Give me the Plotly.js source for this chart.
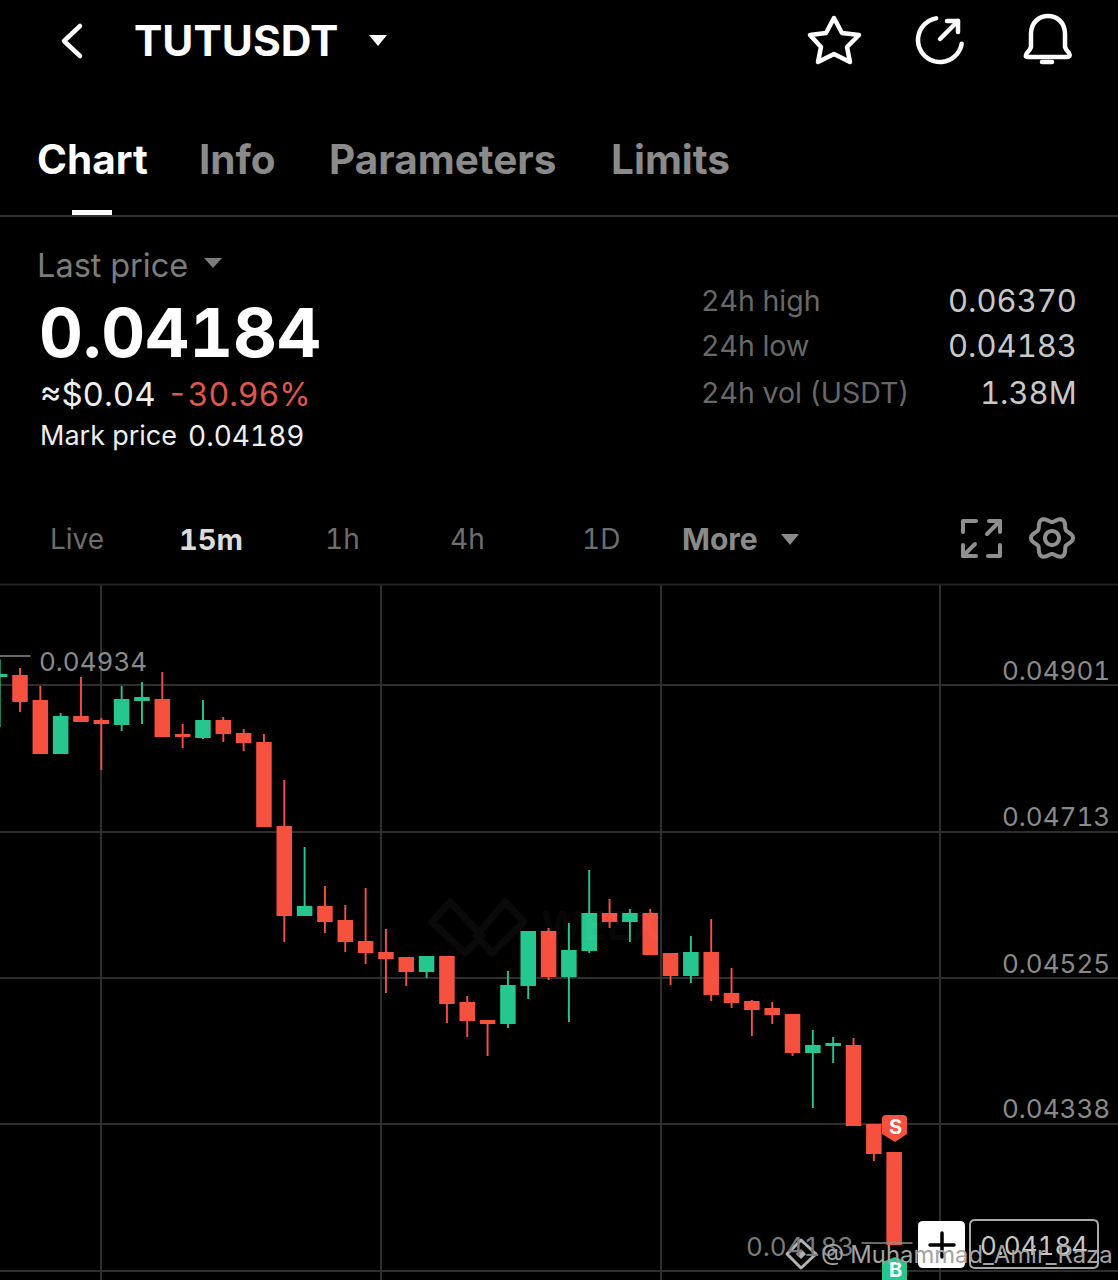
<!DOCTYPE html>
<html><head><meta charset="utf-8">
<script src="https://cdn.plot.ly/plotly-3.0.1.min.js"></script>
<style>html,body{margin:0;padding:0;background:#000;overflow:hidden}
svg text{font-variant-numeric:tabular-nums;font-feature-settings:"tnum" 1}
.shapelayer path{stroke-linejoin:round;stroke-linecap:round}</style></head>
<body><div id="chart" style="width:1118px;height:1280px"></div>
<script>
const candleIndex=[0,1,2,3,4,5,6,7,8,9,10,11,12,13,14,15,16,17,18,19,20,21,22,23,24,25,26,27,28,29,30,31,32,33,34,35,36,37,38,39,40,41,42,43,44];
const openPrice=[0.049125,0.049125,0.048805,0.048138,0.048600,0.048548,0.048510,0.048818,0.048818,0.048369,0.048343,0.048548,0.048382,0.048266,0.047189,0.046060,0.046163,0.045983,0.045714,0.045573,0.045509,0.045342,0.045522,0.044932,0.044701,0.044675,0.045163,0.045842,0.045278,0.045611,0.046073,0.045983,0.046073,0.045560,0.045291,0.045573,0.045047,0.044945,0.044855,0.044778,0.044303,0.044393,0.044380,0.043367,0.043008];
const highPrice=[0.04934,0.049228,0.048997,0.048651,0.049113,0.048587,0.048997,0.049048,0.049177,0.048510,0.048818,0.048600,0.048446,0.048382,0.047792,0.046932,0.046432,0.046189,0.046407,0.045881,0.045509,0.045522,0.045522,0.045021,0.044701,0.045342,0.045842,0.045894,0.045958,0.046637,0.046266,0.046137,0.046137,0.045573,0.045791,0.046009,0.045381,0.044970,0.044945,0.044778,0.044586,0.044496,0.044483,0.043367,0.043008];
const lowPrice=[0.048471,0.048664,0.048138,0.048138,0.048548,0.047920,0.048420,0.048510,0.048356,0.048202,0.048317,0.048279,0.048164,0.047202,0.045714,0.046060,0.045829,0.045586,0.045432,0.045060,0.045150,0.045252,0.044675,0.044496,0.044252,0.044611,0.044983,0.045227,0.044688,0.045573,0.045894,0.045714,0.045560,0.045163,0.045188,0.044957,0.044867,0.044508,0.044662,0.044252,0.043585,0.044162,0.043367,0.042905,0.04183];
const closePrice=[0.049138,0.048805,0.048138,0.048600,0.048548,0.048523,0.048818,0.048843,0.048356,0.048356,0.048548,0.048394,0.048279,0.047202,0.046060,0.046163,0.045983,0.045727,0.045586,0.045509,0.045342,0.045522,0.044932,0.044714,0.044675,0.045150,0.045842,0.045278,0.045598,0.046073,0.045983,0.046073,0.045560,0.045291,0.045573,0.045047,0.044945,0.044855,0.044791,0.044303,0.044380,0.044406,0.043367,0.043008,0.04184];
const yTickVals=[0.04901,0.04713,0.04525,0.04338,0.0415];
const yTickLabels=['0.04901','0.04713','0.04525','0.04338'];
const xGridVals=[4.984,18.76,32.53,46.25];
const tabs=['Chart','Info','Parameters','Limits'];
const intervals=['Live','15m','1h','4h','1D','More'];
const statLabels=['24h high','24h low','24h vol (USDT)'];
const statValues=['0.06370','0.04183','1.38M'];

const W=1118,H=1280,RED='#F6503F',GREEN='#26C78F',FONT='Inter, "Noto Sans", sans-serif';
const X=v=>v/W, Y=v=>1-v/H;
const P=s=>{let i=0;return s.replace(/-?\d+(\.\d+)?/g,m=>(i++%2===0)?X(+m).toFixed(5):Y(+m).toFixed(5));};
const shapes=[],annotations=[];
function stroke(path,color,w,layer){shapes.push({type:'path',xref:'paper',yref:'paper',path:P(path),line:{color,width:w},layer:layer||'above'});}
function fill(path,color,lw,lc,layer){shapes.push({type:'path',xref:'paper',yref:'paper',path:P(path),fillcolor:color,line:{color:lc||color,width:lw||0},layer:layer||'above'});}
function T(text,x,y,size,color,weight,anchor){annotations.push({xref:'paper',yref:'paper',x:X(x),y:Y(y),text,showarrow:false,xanchor:anchor||'left',yanchor:'middle',borderpad:0,font:{family:FONT,size,color,weight:weight||400}});}
function arc(cx,cy,r,a0,a1){let s='';const n=40;for(let i=0;i<=n;i++){const a=(a0+(a1-a0)*i/n)*Math.PI/180;s+=(i?'L ':'M ')+(cx+r*Math.cos(a)).toFixed(2)+' '+(cy+r*Math.sin(a)).toFixed(2)+' ';}return s;}

// header
stroke('M 80 26 L 64 41 L 80 56','#fff',4.5);
T('TUTUSDT',133,41,42.5,'#fff',700);
fill('M 369 35 L 387 35 L 378 46 Z','#fff');
stroke('M 834 18 L 842 33 L 859 35 L 847 47 L 850 62 L 834 54 L 818 62 L 821 47 L 810 35 L 826 33 Z','#fff',4.5);
stroke(arc(940,40,22,-100,-350),'#fff',4.5);
stroke('M 940 39 L 958 21','#fff',4.5);
stroke('M 947 21 L 958 21 L 958 32','#fff',4.5);
stroke('M 1031 47 L 1031 34 C 1031 10 1065 10 1065 34 L 1065 47 Q 1066 50 1069 53 Q 1071 57 1067 57 L 1028 57 Q 1024 57 1027 53 Q 1030 50 1031 47 Z','#fff',4.5);
stroke('M 1042 62 L 1052 62','#fff',4.5);

// tabs
const tabX=[36,198,328,610];
tabs.forEach((t,i)=>T(t,tabX[i],159,40.5,i===0?'#fff':'#8a8a8a',700));
fill('M 72 210 L 112 210 L 112 216 L 72 216 Z','#fff');
stroke('M 0 216 L 1118 216','#333',2);

// price block
T('Last price',36,265,32.5,'#7c7c7c');
fill('M 204 258 L 222 258 L 213 268 Z','#7c7c7c');
T('0.04184',38,332,68,'#fff',700);
T('≈$0.04',39,394,33,'#eee');
T('-30.96%',166,394,32,'#E0574C');
T('Mark price',39,436,27,'#eee');
T('0.04189',187,436,28,'#eee');
statLabels.forEach((t,i)=>{T(t,700,300+46*i,28.5,'#686868');T(statValues[i],1078,300+46*i,31,'#c8c8c8',400,'right');});

// interval bar
const intX=[49,178,324,449,581,681];
intervals.forEach((t,i)=>T(t,intX[i],539,i===1?29:(i===5?30:28),i===1?'#dcdcdc':(i===5?'#8a8a8a':'#6e6e6e'),(i===1||i===5)?700:400));
fill('M 781 534 L 799 534 L 790 545 Z','#8a8a8a');
const IC='#8f8f8f';
stroke('M 963 532 L 963 521 L 976 521',IC,4);
stroke('M 989 521 L 1000 521 L 1000 532',IC,4);
stroke('M 987 534 L 1000 521',IC,4);
stroke('M 963 545 L 963 556 L 976 556',IC,4);
stroke('M 975 544 L 963 556',IC,4);
stroke('M 1000 545 L 1000 556 L 988 556',IC,4);
(function(){let s='';for(let i=0;i<=72;i++){const a=i*5*Math.PI/180,r=18.5+2.6*Math.cos(6*a);s+=(i?'L ':'M ')+(1052+r*Math.cos(a)).toFixed(2)+' '+(538+r*Math.sin(a)).toFixed(2)+' ';}stroke(s+'Z',IC,4);stroke(arc(1052,538,7,0,360)+'Z',IC,4);})();
stroke('M 0 584.5 L 1118 584.5','#222',2);

// chart labels
yTickLabels.forEach((t,i)=>annotations.push({xref:'paper',yref:'y',x:X(1111),y:yTickVals[i],yshift:15,text:t,showarrow:false,xanchor:'right',yanchor:'middle',borderpad:0,font:{family:FONT,size:26,color:'#8a8a8a'}}));
T('0.04934',38,661,26,'#8a8a8a');
stroke('M 0 656 L 30 656','#8a8a8a',1.5);
T('0.04183',745,1246,26,'#7c7c7c');
stroke('M 862 1243 L 912 1243','#8a8a8a',1.5);

// WEEX watermark
stroke('M 450 902 L 432 922 L 465 953 L 482 936 L 450 902 M 505 902 L 524 922 L 492 953 L 476 936 L 505 902','rgba(255,255,255,0.04)',7,'below');
T('WEEX',540,925,40,'rgba(255,255,255,0.035)',700);

// S / B markers
fill('M 886 1115 L 903 1115 Q 907 1115 907 1119 L 907 1134 L 895 1142 L 882 1134 L 882 1119 Q 882 1115 886 1115 Z',RED);
T('S',895,1127,20,'#fff',700,'center');
fill('M 895 1257 L 907 1262 L 907 1280 L 882 1280 L 882 1262 Z',GREEN);
T('B',895,1270,20,'#fff',700,'center');

// + button and price tag
fill('M 923 1221 L 960 1221 Q 965 1221 965 1226 L 965 1263 Q 965 1268 960 1268 L 923 1268 Q 918 1268 918 1263 L 918 1226 Q 918 1221 923 1221 Z','#fff');
stroke('M 942 1233 L 942 1257 M 930 1245 L 954 1245','#000',3.5);
fill('M 975 1220 L 1093 1220 Q 1098 1220 1098 1225 L 1098 1263 Q 1098 1268 1093 1268 L 975 1268 Q 970 1268 970 1263 L 970 1225 Q 970 1220 975 1220 Z','#000',2,'#aaa');
T('0.04184',1034,1245,26,'#c8c8c8',400,'center');

// Muhammad watermark
fill('M 801 1240 L 816 1254 L 801 1268 L 787 1254 Z','rgba(255,255,255,0)',3,'rgba(255,255,255,0.7)');
fill('M 801 1249 L 806 1254 L 801 1259 L 796 1254 Z','rgba(255,255,255,0.7)');
T('@ Muhammad_Amir_Raza',820,1254,23.8,'#a4a4a4');

const trace={type:'candlestick',x:candleIndex,open:openPrice,high:highPrice,low:lowPrice,close:closePrice,
 increasing:{line:{color:GREEN,width:1.9},fillcolor:GREEN},decreasing:{line:{color:RED,width:1.9},fillcolor:RED},whiskerwidth:0,hoverinfo:'skip'};
Plotly.newPlot('chart',[trace],{
 width:W,height:H,margin:{l:0,r:0,t:0,b:0},paper_bgcolor:'#000',plot_bgcolor:'#000',showlegend:false,dragmode:false,hovermode:false,
 boxgap:0.33,boxgroupgap:0,
 xaxis:{range:[0.016,55.01],rangeslider:{visible:false},tickmode:'array',tickvals:xGridVals,showticklabels:false,ticks:'',showgrid:true,gridcolor:'#2e2e2e',gridwidth:2,zeroline:false,showline:false,anchor:'y'},
 yaxis:{domain:[0,695/1280],range:[0.0413792,0.0502925],tickmode:'array',tickvals:yTickVals,showticklabels:false,ticks:'',showgrid:true,gridcolor:'#2e2e2e',gridwidth:2,zeroline:false,showline:false},
 shapes,annotations
},{displayModeBar:false,staticPlot:true});
</script></body></html>
